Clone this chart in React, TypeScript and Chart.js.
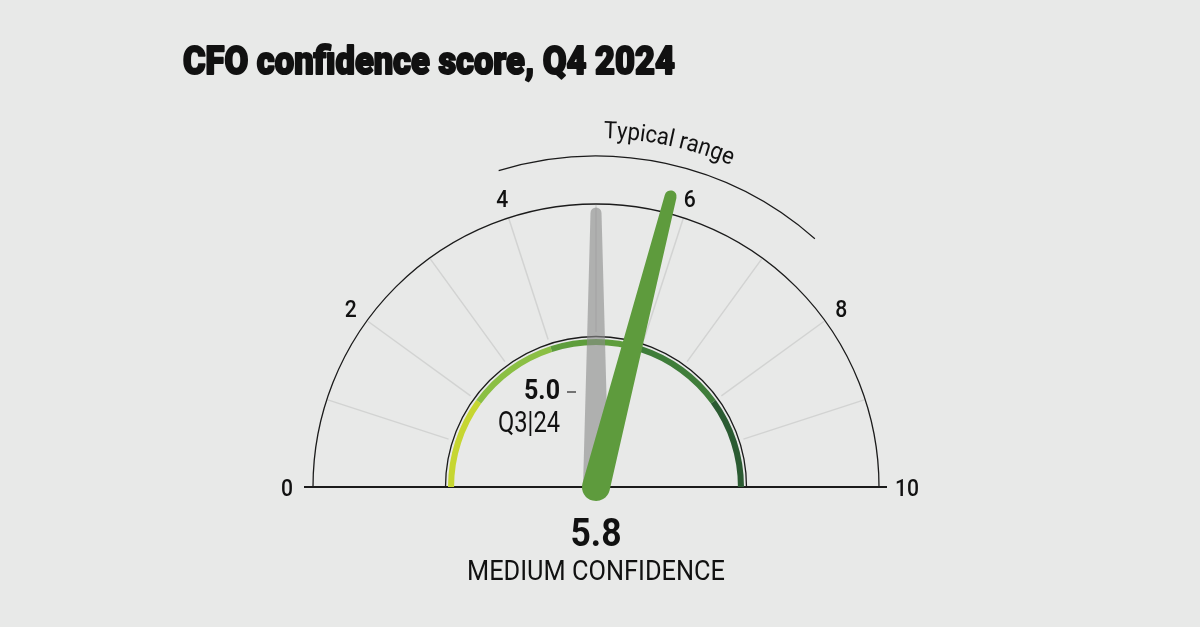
import React, { useEffect, useRef } from "react";
import { Chart, registerables } from "chart.js";

Chart.register(...registerables);

// ---------- data ----------
const TITLE = "CFO confidence score, Q4 2024";
const SCALE_MIN = 0;
const SCALE_MAX = 10;
const bandLabels = ["0–2", "2–4", "4–6", "6–8", "8–10"];
const bandValues = [2, 2, 2, 2, 2];
const bandColors = ["#c6d631", "#8bbf44", "#5e9d3c", "#3f7d3a", "#2b5b32"];
const tickValues = [0, 2, 4, 6, 8, 10];
const tickLabels = ["0", "2", "4", "6", "8", "10"];
const spokeValues = [1, 2, 3, 4, 5, 6, 7, 8, 9];
const currentScore = 5.8;
const previousScore = 5.0;
const previousLabel = "Q3|24";
const typicalRange = [4.05, 7.3];
const typicalLabel = "Typical range";
const confidenceLabel = "MEDIUM CONFIDENCE";

const FONT = "Roboto, 'Liberation Sans', sans-serif";

type Geom = { cx: number; cy: number; ang: (v: number) => number };

function getGeom(chart: any): Geom {
  const meta = chart.getDatasetMeta(0);
  const arcs = meta.data;
  const first = arcs[0].getProps(["x", "y", "startAngle"], true);
  const last = arcs[arcs.length - 1].getProps(["endAngle"], true);
  const start = first.startAngle;
  const end = last.endAngle;
  return {
    cx: first.x,
    cy: first.y,
    ang: (v: number) => start + ((v - SCALE_MIN) / (SCALE_MAX - SCALE_MIN)) * (end - start),
  };
}

function pt(g: Geom, v: number, r: number) {
  const a = g.ang(v);
  return { x: g.cx + r * Math.cos(a), y: g.cy + r * Math.sin(a) };
}

function drawText(
  ctx: CanvasRenderingContext2D,
  text: string,
  x: number,
  y: number,
  font: string,
  align: CanvasTextAlign,
  opts: { width?: number; scaleX?: number; color?: string; stroke?: number }
) {
  ctx.save();
  ctx.font = font;
  ctx.fillStyle = opts.color || "#111";
  ctx.textBaseline = "alphabetic";
  const w = ctx.measureText(text).width;
  const sx = opts.width ? opts.width / w : opts.scaleX || 1;
  ctx.translate(x, y);
  ctx.scale(sx, 1);
  ctx.textAlign = align;
  ctx.fillText(text, 0, 0);
  if (opts.stroke) {
    ctx.strokeStyle = opts.color || "#111";
    ctx.lineWidth = opts.stroke;
    ctx.lineJoin = "round";
    ctx.strokeText(text, 0, 0);
  }
  ctx.restore();
}

function drawArcText(
  ctx: CanvasRenderingContext2D,
  text: string,
  g: Geom,
  r: number,
  centerValue: number,
  targetWidth: number,
  font: string
) {
  ctx.save();
  ctx.font = font;
  ctx.fillStyle = "#111";
  ctx.textAlign = "center";
  ctx.textBaseline = "alphabetic";
  const chars = Array.from(text);
  const widths = chars.map((c) => ctx.measureText(c).width);
  const total = widths.reduce((s, w) => s + w, 0);
  const sx = targetWidth / total;
  let a = g.ang(centerValue) - targetWidth / r / 2;
  chars.forEach((c, i) => {
    const w = widths[i] * sx;
    const mid = a + w / 2 / r;
    ctx.save();
    ctx.translate(g.cx + r * Math.cos(mid), g.cy + r * Math.sin(mid));
    ctx.rotate(mid + Math.PI / 2);
    ctx.scale(sx, 1);
    ctx.fillText(c, 0, 0);
    ctx.restore();
    a += w / r;
  });
  ctx.restore();
}

function needle(
  ctx: CanvasRenderingContext2D,
  g: Geom,
  value: number,
  length: number,
  baseHalf: number,
  tipHalf: number,
  color: string
) {
  const a = g.ang(value);
  const tx = g.cx + length * Math.cos(a);
  const ty = g.cy + length * Math.sin(a);
  const p = a + Math.PI / 2;
  ctx.save();
  ctx.fillStyle = color;
  ctx.beginPath();
  ctx.moveTo(g.cx + baseHalf * Math.cos(p), g.cy + baseHalf * Math.sin(p));
  ctx.lineTo(tx + tipHalf * Math.cos(p), ty + tipHalf * Math.sin(p));
  ctx.arc(tx, ty, tipHalf, a + Math.PI / 2, a - Math.PI / 2, true);
  ctx.lineTo(g.cx - baseHalf * Math.cos(p), g.cy - baseHalf * Math.sin(p));
  ctx.arc(g.cx, g.cy, baseHalf, a - Math.PI / 2, a + Math.PI / 2, true);
  ctx.closePath();
  ctx.fill();
  ctx.restore();
}

const gaugePlugin = {
  id: "gaugeDecor",
  beforeDatasetsDraw(chart: any) {
    const ctx: CanvasRenderingContext2D = chart.ctx;
    const g = getGeom(chart);
    ctx.save();
    // title
    drawText(ctx, TITLE, 183, 74, `900 39px ${FONT}`, "left", { width: 492, stroke: 2 });

    // spokes
    ctx.strokeStyle = "#d2d3d2";
    ctx.lineWidth = 1.5;
    spokeValues.forEach((v) => {
      const a = pt(g, v, 155);
      const b = pt(g, v, 282);
      ctx.beginPath();
      ctx.moveTo(a.x, a.y);
      ctx.lineTo(b.x, b.y);
      ctx.stroke();
    });

    // outer arc
    ctx.strokeStyle = "#1b1b1b";
    ctx.lineWidth = 1.3;
    ctx.beginPath();
    ctx.arc(g.cx, g.cy, 283, g.ang(SCALE_MIN), g.ang(SCALE_MAX));
    ctx.stroke();

    // inner thin arc
    ctx.beginPath();
    ctx.arc(g.cx, g.cy, 150.5, g.ang(SCALE_MIN), g.ang(SCALE_MAX));
    ctx.stroke();

    // typical range arc
    ctx.lineWidth = 1.2;
    ctx.beginPath();
    ctx.arc(g.cx, g.cy, 331, g.ang(typicalRange[0]), g.ang(typicalRange[1]));
    ctx.stroke();

    // baseline
    ctx.lineWidth = 2;
    ctx.beginPath();
    ctx.moveTo(g.cx - 292, g.cy);
    ctx.lineTo(g.cx + 291, g.cy);
    ctx.stroke();
    ctx.restore();

    // tick labels
    const tickFont = `500 24px ${FONT}`;
    tickValues.forEach((v, i) => {
      const label = tickLabels[i];
      let x: number, y: number;
      if (v === SCALE_MIN) {
        x = g.cx - 309;
        y = g.cy;
      } else if (v === SCALE_MAX) {
        x = g.cx + 311;
        y = g.cy;
      } else {
        const p = pt(g, v, 303);
        x = p.x;
        y = p.y;
      }
      drawText(ctx, label, x, y + 8.5, tickFont, "center", { scaleX: 0.88 });
    });

    // typical range label
    drawArcText(ctx, typicalLabel, g, 349, 5.665, 131, `24px ${FONT}`);
  },
  afterDatasetsDraw(chart: any) {
    const ctx: CanvasRenderingContext2D = chart.ctx;
    const g = getGeom(chart);

    // previous-quarter label
    drawText(ctx, previousScore.toFixed(1), g.cx - 36, g.cy - 88, `bold 27px ${FONT}`, "right", { width: 36 });
    ctx.save();
    ctx.strokeStyle = "#333";
    ctx.lineWidth = 1.3;
    ctx.beginPath();
    ctx.moveTo(g.cx - 29, g.cy - 95);
    ctx.lineTo(g.cx - 20, g.cy - 95);
    ctx.stroke();
    ctx.restore();
    drawText(ctx, previousLabel, g.cx - 36, g.cy - 55, `30px ${FONT}`, "right", { width: 62 });

    // needles
    needle(ctx, g, previousScore, 274, 13, 5.5, "rgba(140,140,140,0.62)");
    needle(ctx, g, currentScore, 300, 14, 6, "#5e9b3d");

    // current score
    drawText(ctx, currentScore.toFixed(1), g.cx, g.cy + 59, `bold 38px ${FONT}`, "center", { width: 51 });
    drawText(ctx, confidenceLabel, g.cx, g.cy + 93, `28px ${FONT}`, "center", { width: 258 });
  },
};

export default function App() {
  const ref = useRef<HTMLCanvasElement | null>(null);
  useEffect(() => {
    if (!ref.current) return;
    const chart = new Chart(ref.current, {
      type: "doughnut",
      data: {
        labels: bandLabels,
        datasets: [
          {
            data: bandValues,
            backgroundColor: bandColors,
            borderWidth: 0,
          },
        ],
      },
      options: {
        responsive: false,
        animation: false,
        devicePixelRatio: 1,
        rotation: -90,
        circumference: 180,
        cutout: "95.9%",
        radius: 148,
        events: [],
        layout: { padding: { left: 0, right: 8, top: 199, bottom: 0 } },
        plugins: {
          legend: { display: false },
          tooltip: { enabled: false },
          title: { display: false },
        },
      } as any,
      plugins: [gaugePlugin as any],
    });
    return () => chart.destroy();
  }, []);

  return (
    <div
      style={{
        position: "fixed",
        left: 0,
        top: 0,
        width: 1200,
        height: 627,
        background: "#e8e9e8",
        overflow: "hidden",
      }}
    >
      <canvas ref={ref} width={1200} height={627} style={{ display: "block" }} />
    </div>
  );
}
